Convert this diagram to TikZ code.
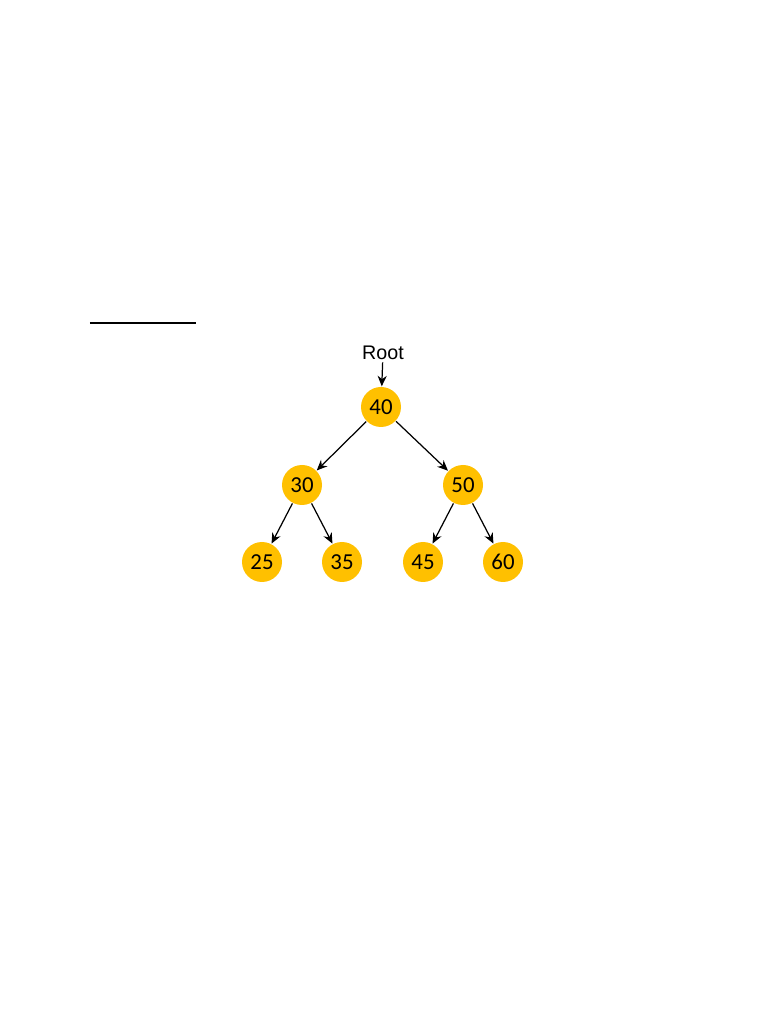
\documentclass[tikz,border=0pt]{standalone}
\usepackage{fontspec}
\setmainfont{Carlito}
\newfontfamily\rootfont{Liberation Sans}
\usetikzlibrary{arrows.meta}
\definecolor{keyfill}{HTML}{FFC000}
\tikzset{
  key/.style={circle, fill=keyfill, minimum size=0.4cm, inner sep=0pt, font=\fontsize{6.5}{7.5}\selectfont},
  link/.style={draw, line width=0.35pt, -{Stealth[length=3pt,width=2.6pt]}}
}
\begin{document}
\begin{tikzpicture}
\useasboundingbox (0,0) rectangle (7.68,10.24);
\path[draw, line width=0.6pt] (0.90,7.01) -- (1.96,7.01);

\node[font=\rootfont\fontsize{5.6}{6.5}\selectfont, inner sep=0.5pt] (root) at (3.83,6.71) {Root};
\node[key] (40) at (3.81,6.17) {40};
\node[key] (30) at (3.02,5.39) {30};
\node[key] (50) at (4.63,5.39) {50};
\node[key] (25) at (2.62,4.62) {25};
\node[key] (35) at (3.42,4.62) {35};
\node[key] (45) at (4.23,4.62) {45};
\node[key] (60) at (5.03,4.62) {60};

\path[link] (root) -- (40);
\path[link] (40) -- (30);
\path[link] (40) -- (50);
\path[link] (30) -- (25);
\path[link] (30) -- (35);
\path[link] (50) -- (45);
\path[link] (50) -- (60);
\end{tikzpicture}
\end{document}
